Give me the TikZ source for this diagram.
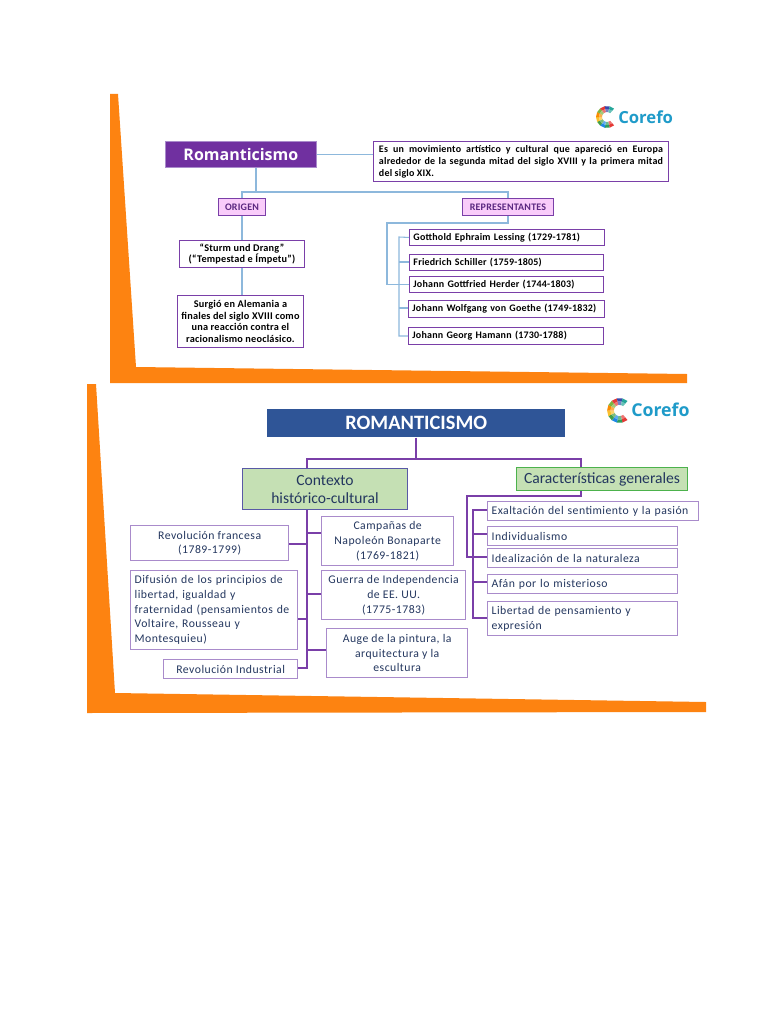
\documentclass[tikz,border=0pt]{standalone}
\usepackage{fontspec}
\setmainfont{Carlito}
\newfontfamily\logofont{Open Sans}
\newfontfamily\spaced[LetterSpace=4]{Carlito}
\newfontfamily\spacedb[LetterSpace=2,BoldFont={Carlito Bold}]{Carlito}
\definecolor{orangeband}{HTML}{FD8311}
\definecolor{purpletitle}{HTML}{7030A0}
\definecolor{purpleline}{HTML}{7A3FA8}
\definecolor{softpurple}{HTML}{A98BCB}
\definecolor{skyline}{HTML}{8DB8DC}
\definecolor{pinkfill}{HTML}{F9CCFA}
\definecolor{bluetitle}{HTML}{2F5597}
\definecolor{greenfill}{HTML}{C5E0B4}
\definecolor{navytext}{HTML}{24375F}
\definecolor{logoblue}{HTML}{1F9BC9}
\tikzset{
  x=0.75pt,y=-0.75pt,
  box/.style={anchor=north west,inner sep=0pt,align=center},
  romtitle/.style={box,fill=purpletitle,draw=softpurple,line width=.6pt,text=white,font=\logofont\bfseries\fontsize{12}{13}\selectfont},
  desc/.style={box,draw=purpleline,line width=.7pt,fill=white,font=\spacedb\bfseries\fontsize{7.5}{9}\selectfont},
  tag/.style={box,fill=pinkfill,draw=purpleline,line width=.7pt,text=purpletitle!80!black,font=\spacedb\bfseries\fontsize{7.5}{8}\selectfont},
  topbox/.style={box,draw=purpleline,line width=.7pt,fill=white,font=\spacedb\bfseries\fontsize{7.7}{8.9}\selectfont},
  repbox/.style={topbox,font=\spacedb\bfseries\fontsize{7.5}{8.9}\selectfont},
  bandtitle/.style={box,fill=bluetitle,text=white,font=\fontsize{15.3}{17}\selectfont\bfseries},
  greenbox/.style={box,fill=greenfill,draw=gray!70!blue,line width=.8pt,text=navytext,font=\fontsize{11.7}{13.5}\selectfont},
  lowbox/.style={box,draw=softpurple,line width=1pt,fill=white,text=navytext,font=\spaced\fontsize{8.8}{11}\selectfont},
  skyconn/.style={draw=skyline,line width=.8pt},
  purpleconn/.style={draw=purpleline,line width=1.1pt},
}
\newcommand{\bx}[7]{\node[#1,minimum width=#5*0.75pt-#3*0.75pt,minimum height=#6*0.75pt-#4*0.75pt] (#2) at (#3,#4) {#7};}
% left-aligned box: the text starts about 4 px inside the left edge
\newcommand{\bxl}[7]{\node[#1,align=left,inner xsep=3pt,text width=#5*0.75pt-#3*0.75pt-6pt,minimum height=#6*0.75pt-#4*0.75pt] (#2) at (#3,#4) {#7};}
\newcommand{\cseg}[7]{\definecolor{tmpc}{HTML}{#7}%
  \fill[tmpc] (#1:#3) -- (#1:#4) -- (#2:#4) -- (#2:#3) -- cycle;
  \fill[tmpc!70!white] (#1:#5) -- (#1:#6) -- (#2:#6) -- (#2:#5) -- cycle;}
\newcommand{\logo}[3]{%
  \begin{scope}[shift={(#1,#2)},scale=#3]
    \cseg{50}{76}{8}{11}{5}{8}{E53935}
    \cseg{76}{102}{8}{11}{5}{8}{2E9E5B}
    \cseg{102}{128}{8}{11}{5}{8}{1E88E5}
    \cseg{128}{154}{8}{11}{5}{8}{43A047}
    \cseg{154}{180}{8}{11}{5}{8}{FBC02D}
    \cseg{180}{206}{8}{11}{5}{8}{FB8C00}
    \cseg{206}{232}{8}{11}{5}{8}{7CB342}
    \cseg{232}{258}{8}{11}{5}{8}{E53935}
    \cseg{258}{284}{8}{11}{5}{8}{3949AB}
    \cseg{284}{310}{8}{11}{5}{8}{26A69A}
  \end{scope}}
\begin{document}
\begin{tikzpicture}
\useasboundingbox (0,0) rectangle (768,1024);
\fill[white] (0,0) rectangle (768,1024);
% orange bands
\fill[orangeband] (110,94) -- (118,94) -- (136,367) -- (687,374) -- (687,383) -- (110,383) -- cycle;
\fill[orangeband] (87,384) -- (96,384) -- (115,693) -- (706,702) -- (706,712) -- (87,713) -- cycle;
% upper map
\bx{romtitle}{rom}{165}{141}{316}{167}{Romanticismo}
\bx{desc,align=left}{def}{373}{141}{668}{181}{\makebox[213pt][s]{Es un movimiento artístico y cultural que apareció en Europa}\\\makebox[213pt][s]{alrededor de la segunda mitad del siglo XVIII y la primera mitad}\\\makebox[213pt][l]{del siglo XIX.}}
\bx{tag}{ori}{218}{198}{265}{215}{ORIGEN}
\bx{tag}{rep}{462}{198}{553}{215}{REPRESENTANTES}
\bx{topbox}{stu}{179}{240}{304}{267}{“Sturm und Drang”\\(“Tempestad e Ímpetu”)}
\bx{topbox}{sur}{177}{295}{303}{347}{Surgió en Alemania a\\finales del siglo XVIII como\\una reacción contra el\\racionalismo neoclásico.}
\bxl{repbox}{got}{409}{229}{604}{245}{Gotthold Ephraim Lessing (1729-1781)}
\bxl{repbox}{fri}{409}{254}{603}{270}{Friedrich Schiller (1759-1805)}
\bxl{repbox}{her}{409}{276}{603}{292}{Johann Gottfried Herder (1744-1803)}
\bxl{repbox}{goe}{408}{300}{604}{317}{\mbox{Johann Wolfgang von Goethe (1749-1832)}}
\bxl{repbox}{ham}{408}{327}{603}{344}{Johann Georg Hamann (1730-1788)}
% upper connectors
\coordinate (ua) at (256,192);
\coordinate (ub) at (387,223);
\coordinate (uc) at (399,237);
\coordinate (ud) at (399,336);
\coordinate (ue) at (399,262);
\coordinate (uf) at (399,308);
\draw[skyconn] (rom.east) -- (rom.east -| def.west);
\draw[skyconn] (ua |- rom.south) -- (ua);
\draw[skyconn] (ori.north) |- (ua) -| (rep.north);
\draw[skyconn] (ori.south) -- (ori.south |- stu.north);
\draw[skyconn] (stu.south) -- (stu.south |- sur.north);
\draw[skyconn] (rep.south) |- (ub) |- (her.west);
\draw[skyconn] (got.west) -- (uc) -- (ud) -- (ud -| ham.west);
\draw[skyconn] (ue) -- (ue -| fri.west);
\draw[skyconn] (uf) -- (uf -| goe.west);
% lower map
\bx{bandtitle}{bt}{267}{409}{565}{437}{ROMANTICISMO}
\bx{greenbox}{ctx}{242}{468}{407}{509}{Contexto\\histórico-cultural}
\bx{greenbox,draw=gray!60!green}{car}{516}{467}{687}{490}{Características generales}
\bx{lowbox}{rf}{130}{525}{288}{560}{Revolución francesa\\(1789-1799)}
\bxl{lowbox}{dif}{130}{570}{297}{649}{Difusión de los principios de\\libertad, igualdad y\\fraternidad (pensamientos de\\Voltaire, Rousseau y\\Montesquieu)}
\bx{lowbox}{ri}{163}{659}{297}{678}{Revolución Industrial}
\bx{lowbox}{cam}{321}{516}{453}{565}{Campañas de\\Napoleón Bonaparte\\(1769-1821)}
\bx{lowbox}{gue}{321}{570}{465}{619}{Guerra de Independencia\\de EE. UU.\\(1775-1783)}
\bx{lowbox}{aug}{326}{628}{467}{677}{Auge de la pintura, la\\arquitectura y la\\escultura}
\bxl{lowbox}{exa}{487}{501}{698}{520}{Exaltación del sentimiento y la pasión}
\bxl{lowbox}{ind}{487}{526}{677}{545}{Individualismo}
\bxl{lowbox}{ide}{487}{548}{677}{567}{Idealización de la naturaleza}
\bxl{lowbox}{afa}{487}{574}{677}{593}{Afán por lo misterioso}
\bxl{lowbox}{lib}{487}{601}{677}{635}{Libertad de pensamiento y\\expresión}
% lower connectors
\coordinate (la) at (416,459);
\coordinate (lb) at (307,459);
\coordinate (lc) at (581,459);
\coordinate (ld) at (307,668);
\coordinate (le) at (581,496);
\coordinate (lf) at (467,496);
\coordinate (lg) at (467,557);
\coordinate (lh) at (473,510);
\coordinate (li) at (473,618);
\coordinate (s1) at (307,533);
\coordinate (s2) at (307,544);
\coordinate (s3) at (307,594);
\coordinate (s4) at (307,619);
\coordinate (s5) at (307,650);
\coordinate (s6) at (473,534);
\coordinate (s7) at (473,582);
\draw[purpleconn] (la |- bt.south) -- (la);
\draw[purpleconn] (lb |- ctx.north) -- (lb) -- (lc) -- (lc |- car.north);
\draw[purpleconn] (lb |- ctx.south) -- (ld) -- (ld -| ri.east);
\draw[purpleconn] (s1) -- (s1 -| cam.west);
\draw[purpleconn] (s2) -- (s2 -| rf.east);
\draw[purpleconn] (s3) -- (s3 -| gue.west);
\draw[purpleconn] (s4) -- (s4 -| dif.east);
\draw[purpleconn] (s5) -- (s5 -| aug.west);
\draw[purpleconn] (le |- car.south) -- (le) -- (lf) -- (lg) -- (lg -| ide.west);
\draw[purpleconn] (lh -| exa.west) -- (lh) -- (li) -- (li -| lib.west);
\draw[purpleconn] (s6) -- (s6 -| ind.west);
\draw[purpleconn] (s7) -- (s7 -| afa.west);
% logos
\logo{607}{117}{1}
\node[anchor=west,inner sep=0pt,text=logoblue,font=\logofont\bfseries\fontsize{12.5}{14}\selectfont] (lg1) at (618,117) {Corefo};
\logo{619.5}{410.5}{1.13}
\node[anchor=west,inner sep=0pt,text=logoblue,font=\logofont\bfseries\fontsize{13.3}{15}\selectfont] (lg2) at (631,410) {Corefo};
\end{tikzpicture}
\end{document}
